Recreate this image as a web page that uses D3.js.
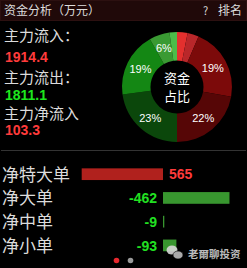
<!DOCTYPE html>
<html lang="zh">
<head>
<meta charset="UTF-8" />
<title>资金分析</title>
<style>
body { margin: 0; background: #000; }
svg { display: block; }
text { font-family: "Noto Sans CJK SC", sans-serif; }
.num { font-family: "Liberation Sans", Arial, sans-serif; font-weight: bold; }
</style>
</head>
<body>
<script src="https://cdnjs.cloudflare.com/ajax/libs/d3/7.8.5/d3.min.js"></script>
<script>
// --- data ---
var mainLabels = ["主力流入：", "主力流出：", "主力净流入"];
var mainValues = ["1914.4", "1811.1", "103.3"];
var mainColors = ["#ff3b3b", "#1ee81e", "#ff3b3b"];

// ring shares, clockwise from 12 o'clock
var ringShares = [3.1, 3.3, 21.4, 22.2, 22.8, 19.0, 6.0, 2.2];
var ringLabels = ["", "", "19%", "22%", "23%", "19%", "6%", ""];
var ringColors = ["#e3302e", "#b9272a", "#7c0a0a", "#560606", "#0b470b", "#148714", "#3a9a33", "#4cbc49"];

var rowNames = ["净特大单", "净大单", "净中单", "净小单"];
var rowValues = [565, -462, -9, -93];

var W = 247, H = 268;
var svg = d3.select("body").append("svg").attr("width", W).attr("height", H);

svg.append("rect").attr("width", W).attr("height", H).attr("fill", "#000");

// header
svg.append("rect").attr("x", 0.5).attr("y", 0.5).attr("width", W - 1).attr("height", 20)
	.attr("fill", "#200909").attr("stroke", "#2c1010");
svg.append("text").attr("x", 4).attr("y", 15).attr("fill", "#dcdcdc")
	.style("font-size", "12px").text("资金分析（万元）");
svg.append("text").attr("x", 203).attr("y", 15).attr("fill", "#dcdcdc")
	.style("font-size", "11px").text("?");
svg.append("text").attr("x", 242).attr("y", 15).attr("fill", "#dcdcdc")
	.style("text-anchor", "end").style("font-size", "12px").text("排名");

// left summary
var ly = [41, 83, 118.5], ny = [62, 100, 135];
mainLabels.forEach(function(d, i) {
	svg.append("text").attr("x", 4).attr("y", ly[i]).attr("fill", "#dcdcdc")
		.style("font-size", "15px").text(d);
	svg.append("text").attr("class", "num").attr("x", 5).attr("y", ny[i])
		.attr("fill", mainColors[i]).style("font-size", "14px").text(mainValues[i]);
});

// ring
var cx = 177, cy = 87;
var pie = d3.pie().sort(null).value(function(d) { return d; });
var arc = d3.arc().innerRadius(26.5).outerRadius(55);
var ring = svg.append("g").attr("transform", "translate(" + cx + "," + cy + ")");
var arcs = pie(ringShares);
ring.selectAll("path").data(arcs).enter().append("path")
	.attr("d", arc)
	.attr("fill", function(d, i) { return ringColors[i]; });
ring.selectAll("text.pct").data(arcs).enter().append("text")
	.attr("class", "pct")
	.attr("transform", function(d) { return "translate(" + arc.centroid(d) + ")"; })
	.attr("dy", "0.36em")
	.style("text-anchor", "middle")
	.style("font-family", "'Liberation Sans', Arial, sans-serif")
	.style("font-size", "11px")
	.attr("fill", "#fff")
	.text(function(d, i) { return ringLabels[i]; });
ring.append("text").attr("y", -4).style("text-anchor", "middle").attr("fill", "#fff")
	.style("font-size", "13px").text("资金");
ring.append("text").attr("y", 14).style("text-anchor", "middle").attr("fill", "#fff")
	.style("font-size", "13px").text("占比");

// separator
svg.append("line").attr("x1", 1).attr("x2", W - 1).attr("y1", 150.5).attr("y2", 150.5)
	.attr("stroke", "#333").attr("stroke-width", 1);

// net rows
var maxAbs = d3.max(rowValues, function(d) { return Math.abs(d); });
var x = d3.scaleLinear().domain([maxAbs, -maxAbs]).range([81.7, 244.3]);
var y = d3.scalePoint().domain(rowNames).range([174.2, 245.4]);
var bh = 11.7;

var rows = svg.append("g");
rows.selectAll("text.name").data(rowNames).enter().append("text")
	.attr("class", "name")
	.attr("x", 2).attr("y", function(d) { return y(d) + 6.5; })
	.attr("fill", "#dcdcdc").style("font-size", "17px")
	.text(function(d) { return d; });

rows.selectAll("rect.bar").data(rowValues).enter().append("rect")
	.attr("class", "bar")
	.attr("x", function(d) { return Math.min(x(d), x(0)); })
	.attr("y", function(d, i) { return y(rowNames[i]) - bh / 2; })
	.attr("width", function(d) { return Math.max(1, Math.abs(x(d) - x(0))); })
	.attr("height", bh)
	.attr("fill", function(d) { return d > 0 ? "#b0211d" : "#38962f"; });

rows.selectAll("text.val").data(rowValues).enter().append("text")
	.attr("class", "val num")
	.attr("x", function(d) { return d > 0 ? x(0) + 6 : x(0) - 6; })
	.attr("y", function(d, i) { return y(rowNames[i]) + 5.2; })
	.style("text-anchor", function(d) { return d > 0 ? "start" : "end"; })
	.style("font-size", "14px")
	.attr("fill", function(d) { return d > 0 ? "#ff3b3b" : "#22e022"; })
	.text(function(d) { return d; });

// page dots
svg.append("circle").attr("cx", 116.5).attr("cy", 260.5).attr("r", 2.8).attr("fill", "#e8282e");
svg.append("circle").attr("cx", 130.5).attr("cy", 260.5).attr("r", 2.8).attr("fill", "#9a9a9a");

// watermark
var wm = svg.append("g").attr("opacity", 0.9);
wm.append("ellipse").attr("cx", 172).attr("cy", 250).attr("rx", 5.5).attr("ry", 4.5).attr("fill", "#d8d8d8");
wm.append("ellipse").attr("cx", 178).attr("cy", 255).attr("rx", 5).attr("ry", 4).attr("fill", "#bdbdbd").attr("stroke", "#000").attr("stroke-width", 0.6);
wm.append("text").attr("x", 188).attr("y", 258).attr("fill", "#d0d0d0")
	.style("font-size", "10.5px").style("font-weight", "bold").text("老爾聊投资");
</script>
</body>
</html>
